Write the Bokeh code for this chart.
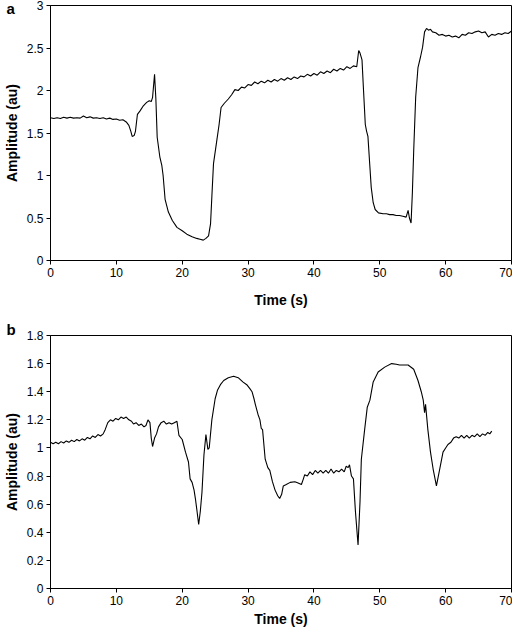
from bokeh.plotting import figure
from bokeh.models import Range1d, FixedTicker, Title
from bokeh.layouts import column
from bokeh.embed import file_html
from bokeh.resources import INLINE

# ---------------- data: panel a ----------------
time_a = [0, 0.5, 1, 1.5, 2, 2.5, 3, 3.5, 4, 4.5, 5, 5.5, 6, 6.5, 7, 7.5, 8, 8.5, 9, 9.5, 10, 10.5, 11,
          11.5, 11.9, 12.2, 12.4, 12.7, 12.9, 13.2, 13.6, 14.1, 14.6, 15.0, 15.3, 15.5, 15.8, 16.0, 16.2,
          16.6, 16.9, 17.1, 17.4, 17.9, 18.5, 19.2, 20.0, 20.7, 21.5, 22.2, 22.7, 23.2, 23.6, 24.0, 24.3,
          24.5, 24.75, 25.25, 25.6, 25.9, 26.4, 27.0, 27.5, 28.0, 28.5, 29.0, 29.5, 30.0, 30.5, 31.0, 31.5,
          32, 32.5, 33, 33.5, 34, 34.5, 35, 35.5, 36, 36.5, 37, 37.5, 38, 38.5, 39, 39.5, 40, 40.5, 41, 41.5,
          42, 42.5, 43, 43.5, 44, 44.5, 45, 45.5, 46, 46.5, 46.8, 47.0, 47.3, 47.5, 47.8, 48.0, 48.2, 48.5,
          48.7, 49.0, 49.3, 49.8, 50.5, 51.0, 51.5, 52.0, 52.5, 53.0, 53.5, 54.0, 54.3, 54.5, 54.75, 54.95,
          55.15, 55.45, 55.8, 56.2, 56.5, 56.8, 57.1, 57.4, 57.7, 58.0, 58.5, 59.0, 59.5, 60.0, 60.5, 61.0,
          61.5, 62.0, 62.5, 63.0, 63.5, 64.0, 64.5, 65.0, 65.5, 66.0, 66.5, 67.0, 67.5, 68.0, 68.5, 69.0,
          69.5, 70.0]
amp_a = [1.68, 1.67, 1.68, 1.67, 1.685, 1.675, 1.685, 1.675, 1.68, 1.675, 1.70, 1.68, 1.69, 1.675, 1.68,
         1.67, 1.68, 1.665, 1.675, 1.66, 1.665, 1.65, 1.655,
         1.63, 1.59, 1.52, 1.46, 1.47, 1.52, 1.72, 1.76, 1.82, 1.86, 1.88, 1.87, 1.92, 2.19, 1.90, 1.45,
         1.22, 1.12, 1.00, 0.72, 0.57, 0.47, 0.39, 0.35, 0.31, 0.28, 0.26, 0.25, 0.24, 0.26, 0.29, 0.43,
         0.75, 1.14, 1.41, 1.60, 1.80, 1.85, 1.90, 1.95, 2.01, 2.00, 2.04, 2.03, 2.07, 2.06, 2.10, 2.08,
         2.11, 2.09, 2.12, 2.10, 2.13, 2.11, 2.14, 2.12, 2.15, 2.13, 2.16, 2.14, 2.17, 2.16, 2.19, 2.17,
         2.20, 2.18, 2.22, 2.20, 2.23, 2.21, 2.25, 2.23, 2.26, 2.24, 2.28, 2.26, 2.29, 2.28, 2.47, 2.44,
         2.36, 2.05, 1.60, 1.52, 1.46, 1.10, 0.86, 0.68, 0.60, 0.56, 0.55, 0.55, 0.54, 0.54, 0.53, 0.53,
         0.52, 0.51, 0.59, 0.50, 0.44, 0.80, 1.29, 1.92, 2.27, 2.40, 2.51, 2.69, 2.73, 2.71, 2.72, 2.69,
         2.68, 2.65, 2.66, 2.64, 2.65, 2.63, 2.64, 2.62, 2.66, 2.65, 2.68, 2.67, 2.69, 2.70, 2.68, 2.69,
         2.63, 2.66, 2.65, 2.67, 2.66, 2.68, 2.67, 2.70]

# ---------------- data: panel b ----------------
time_b = [0, 0.4, 0.8, 1.2, 1.6, 2.0, 2.4, 2.8, 3.2, 3.6, 4.0, 4.4, 4.8, 5.2, 5.6, 6.0, 6.4, 6.8, 7.2, 7.6,
          8.0, 8.3, 8.7, 9.1, 9.5, 9.9, 10.3, 10.7, 11.1, 11.5, 11.9, 12.3, 12.6, 13.0, 13.4, 13.8, 14.2,
          14.5, 14.8, 15.1, 15.3, 15.5, 15.8, 16.1, 16.4, 16.8, 17.2, 17.6, 18.0, 18.4, 18.8, 19.2, 19.5,
          20.0, 20.5, 20.95, 21.2, 21.5, 21.8, 22.0, 22.25, 22.5, 22.75, 23.0, 23.3, 23.6, 23.9, 24.1, 24.5,
          25.0, 25.35, 25.8, 26.3, 27.0, 27.8, 28.5, 29.2, 29.8, 30.3, 30.6, 30.9, 31.1, 31.5, 31.8, 32.0,
          32.2, 32.6, 33.0, 33.3, 33.7, 34.1, 34.5, 34.8, 35.1, 35.35, 35.8, 36.4, 37.1, 37.6, 38.1, 38.4,
          38.6, 39.0, 39.4, 39.8, 40.2, 40.6, 41.0, 41.4, 41.8, 42.2, 42.6, 43.0, 43.4, 43.8, 44.2, 44.6,
          44.9, 45.2, 45.4, 45.7, 46.0, 46.3, 46.7, 47.0, 47.2, 47.7, 48.1, 48.5, 49.0, 49.75, 50.75, 51.8,
          52.5, 53.0, 54.3, 55.15, 55.8, 56.3, 56.6, 56.8, 56.95, 57.3, 57.7, 58.1, 58.6, 59.1, 59.6, 60.0,
          60.35, 60.8, 61.2, 61.6, 62.0, 62.4, 62.8, 63.2, 63.6, 64.0, 64.4, 64.8, 65.2, 65.6, 66.0, 66.4,
          66.7, 67.0]
amp_b = [1.04, 1.03, 1.04, 1.03, 1.045, 1.035, 1.05, 1.04, 1.055, 1.045, 1.06, 1.05, 1.065, 1.055, 1.075,
         1.065, 1.085, 1.075, 1.095, 1.085, 1.10, 1.13, 1.18, 1.20, 1.19, 1.21, 1.20, 1.22, 1.21, 1.22,
         1.20, 1.19, 1.17, 1.18, 1.16, 1.17, 1.15, 1.16, 1.20, 1.18, 1.07, 1.01, 1.07, 1.10, 1.15, 1.18,
         1.19, 1.17, 1.18, 1.17, 1.18, 1.19, 1.09, 1.06, 0.97, 0.90, 0.78, 0.755, 0.70, 0.64, 0.55, 0.455,
         0.55, 0.685, 0.95, 1.095, 0.99, 1.00, 1.20, 1.35, 1.41, 1.45, 1.48, 1.50, 1.51, 1.50, 1.47, 1.45,
         1.42, 1.40, 1.35, 1.31, 1.24, 1.20, 1.14, 1.13, 0.92, 0.86, 0.84, 0.76, 0.70, 0.66, 0.64, 0.67,
         0.73, 0.74, 0.755, 0.76, 0.75, 0.74, 0.78, 0.81, 0.80, 0.83, 0.81, 0.84, 0.82, 0.84, 0.82, 0.84,
         0.82, 0.85, 0.82, 0.84, 0.83, 0.85, 0.83, 0.87, 0.86, 0.88, 0.80, 0.78, 0.55, 0.31, 0.62, 0.92,
         1.13, 1.29, 1.34, 1.47, 1.54, 1.575, 1.60, 1.595, 1.59, 1.59, 1.56, 1.48, 1.40, 1.34, 1.25, 1.31,
         1.13, 0.97, 0.85, 0.73, 0.85, 0.97, 1.00, 1.025, 1.04, 1.07, 1.08, 1.07, 1.09, 1.07, 1.09, 1.07,
         1.09, 1.08, 1.10, 1.08, 1.10, 1.09, 1.11, 1.10, 1.12]

# ---------------- ticks ----------------
x_ticks = [0, 10, 20, 30, 40, 50, 60, 70]
x_tick_labels = ["0", "10", "20", "30", "40", "50", "60", "70"]
y_ticks_a = [0, 0.5, 1, 1.5, 2, 2.5, 3]
y_tick_labels_a = ["0", "0.5", "1", "1.5", "2", "2.5", "3"]
y_ticks_b = [0, 0.2, 0.4, 0.6, 0.8, 1.0, 1.2, 1.4, 1.6, 1.8]
y_tick_labels_b = ["0", "0.2", "0.4", "0.6", "0.8", "1", "1.2", "1.4", "1.6", "1.8"]

FONT = "Liberation Sans"


def make_panel(t, v, ymax, yticks, ylabels, height, top, bottom, xstand, tag, tag_standoff):
    p = figure(width=512, height=height, x_range=Range1d(0, 70), y_range=Range1d(0, ymax),
               output_backend="svg", toolbar_location=None,
               min_border_left=44, min_border_right=1, min_border_top=top, min_border_bottom=bottom)
    p.line(t, v, line_color="black", line_width=1.1)
    p.xgrid.visible = False
    p.ygrid.visible = False
    p.outline_line_color = "black"
    p.outline_line_alpha = 1.0
    p.outline_line_width = 1
    p.background_fill_color = "white"
    p.border_fill_color = "white"
    for ax in (p.xaxis[0], p.yaxis[0]):
        ax.minor_tick_line_color = None
        ax.major_tick_in = 0
        ax.major_tick_out = 4
        ax.axis_line_color = "black"
        ax.major_tick_line_color = "black"
        ax.major_label_text_font = FONT
        ax.major_label_text_font_size = "12px"
        ax.major_label_text_color = "black"
        ax.major_label_standoff = 3
        ax.axis_label_text_font = FONT
        ax.axis_label_text_font_size = "14px"
        ax.axis_label_text_font_style = "bold"
        ax.axis_label_text_color = "black"
    p.xaxis[0].ticker = FixedTicker(ticks=x_ticks)
    p.xaxis[0].major_label_overrides = dict(zip(x_ticks, x_tick_labels))
    p.yaxis[0].ticker = FixedTicker(ticks=yticks)
    p.yaxis[0].major_label_overrides = dict(zip(yticks, ylabels))
    p.xaxis[0].axis_label = "Time (s)"
    p.xaxis[0].axis_label_standoff = xstand
    p.yaxis[0].axis_label = "Amplitude (au)"
    p.yaxis[0].axis_label_standoff = 4
    p.title = Title(text=tag, align="left", offset=-44, vertical_align="bottom",
                    standoff=tag_standoff,
                    text_font=FONT, text_font_size="15px", text_font_style="bold",
                    text_color="black")
    return p


pa = make_panel(time_a, amp_a, 3, y_ticks_a, y_tick_labels_a, 314, 5, 54, 12, "a", -22)
pb = make_panel(time_b, amp_b, 1.8, y_ticks_b, y_tick_labels_b, 315, 21, 38, 3, "b", -5)

layout = column(pa, pb, spacing=0)
open("out.html", "w").write(file_html(layout, INLINE))
